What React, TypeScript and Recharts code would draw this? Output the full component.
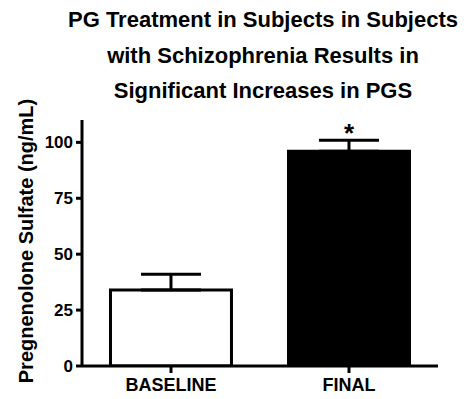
import React from 'react';
import { BarChart, Bar, XAxis, YAxis, ErrorBar, Cell, LabelList } from 'recharts';

const categories = ['BASELINE', 'FINAL'];
const values = [34, 96];
const errors = [7, 5];
const significance = ['', '*'];
const barFills = ['#ffffff', '#000000'];
const yTicks = [0, 25, 50, 75, 100];
const titleLines = [
  'PG Treatment in Subjects in Subjects',
  'with Schizophrenia Results in',
  'Significant Increases in PGS',
];
const yLabel = 'Pregnenolone Sulfate (ng/mL)';

const data = categories.map((c, i) => ({
  name: c,
  value: values[i],
  err: [0, errors[i]],
  sig: significance[i],
}));

const FONT = '"Liberation Sans", Arial, Helvetica, sans-serif';

const Star = (props: any) => {
  const { x, y, width, value } = props;
  if (!value) return null;
  return (
    <text
      x={x + width / 2}
      y={y - 9}
      textAnchor="middle"
      fontFamily={FONT}
      fontWeight="bold"
      fontSize={26}
      fill="#000"
    >
      {value}
    </text>
  );
};

export default function App() {
  return (
    <div style={{ position: 'absolute', left: 0, top: 0, width: 474, height: 399, background: '#fff' }}>
      <BarChart
        width={474}
        height={399}
        data={data}
        margin={{ top: 120, right: 36, bottom: 0, left: 0 }}
        barCategoryGap="16%"
      >
        <XAxis
          dataKey="name"
          height={33}
          axisLine={{ stroke: '#000', strokeWidth: 3 }}
          tickLine={{ stroke: '#000', strokeWidth: 3 }}
          tickSize={7}
          tickMargin={5}
          tick={{ fill: '#000', fontFamily: FONT, fontWeight: 'bold', fontSize: 18 }}
        />
        <YAxis
          width={82}
          domain={[0, 110]}
          ticks={yTicks}
          allowDataOverflow
          axisLine={{ stroke: '#000', strokeWidth: 3 }}
          tickLine={{ stroke: '#000', strokeWidth: 3 }}
          tickSize={6}
          tickMargin={3}
          tick={{ fill: '#000', fontFamily: FONT, fontWeight: 'bold', fontSize: 17 }}
        />
        <Bar dataKey="value" stroke="#000" strokeWidth={3} isAnimationActive={false}>
          {data.map((d, i) => (
            <Cell key={d.name} fill={barFills[i]} />
          ))}
          <ErrorBar dataKey="err" width={30} stroke="#000" strokeWidth={3} direction="y" />
          <LabelList dataKey="sig" content={Star} />
        </Bar>
      </BarChart>
      <svg
        width={474}
        height={399}
        style={{ position: 'absolute', left: 0, top: 0, pointerEvents: 'none' }}
      >
        {titleLines.map((t, i) => (
          <text
            key={i}
            x={263}
            y={27 + i * 35.5}
            textAnchor="middle"
            fontFamily={FONT}
            fontWeight="bold"
            fontSize={22}
            fill="#000"
          >
            {t}
          </text>
        ))}
        <text
          transform="translate(33, 241) rotate(-90)"
          textAnchor="middle"
          fontFamily={FONT}
          fontWeight="bold"
          fontSize={20}
          fill="#000"
        >
          {yLabel}
        </text>
      </svg>
    </div>
  );
}
